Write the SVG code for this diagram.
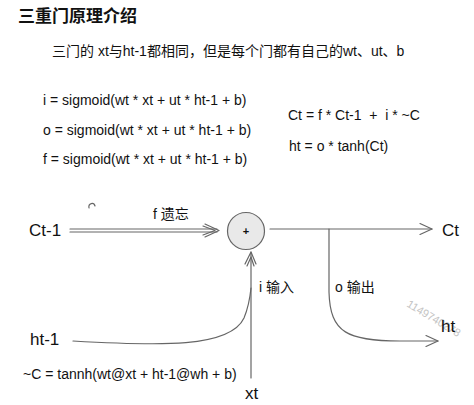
<svg xmlns="http://www.w3.org/2000/svg" width="474" height="405" viewBox="0 0 474 405">
<style>
text{font-family:"Liberation Sans","Noto Sans CJK SC",Arial,sans-serif;fill:#111;white-space:pre}
.t{font-size:17px;font-weight:bold}
.s{font-size:14px}
.b{font-size:17px}
.ln{fill:none;stroke:#666;stroke-width:1.2;stroke-linecap:round;stroke-linejoin:round}
.wm{font-size:11px;fill:#c4c4c4}
</style>
<rect width="474" height="405" fill="#fff"/>
<text class="t" x="18" y="22">三重门原理介绍</text>
<text class="s" x="52" y="56">三门的 xt与ht-1都相同，但是每个门都有自己的wt、ut、b</text>
<g id="formulas">
<text class="s" x="43" y="105">i = sigmoid(wt * xt + ut * ht-1 + b)</text>
<text class="s" x="43" y="135">o = sigmoid(wt * xt + ut * ht-1 + b)</text>
<text class="s" x="43" y="164">f = sigmoid(wt * xt + ut * ht-1 + b)</text>
<text class="s" x="288" y="120">Ct = f * Ct-1  +  i * ~C</text>
<text class="s" x="289" y="151">ht = o * tanh(Ct)</text>
</g>
<g id="connectors">
<path class="ln" d="M70 229 H217 M70 232 H217"/>
<path class="ln" d="M205 224 L219 230.5 L205 237 M203 226 L215 230.5 L203 235"/>
<path class="ln" d="M270 229 H432"/>
<path class="ln" d="M420 223.5 L432 229 L420 234.5"/>
<path class="ln" d="M251 378 V252"/>
<path class="ln" d="M245 264 L251 252 L256 264 M247 266 L251 257 L254 266"/>
<path class="ln" d="M73 341 C160 346 230 348 244 318 C249 306 250 298 251 288"/>
<path class="ln" d="M329 229 V292 C330 333 348 341 400 341 H438"/>
<path class="ln" d="M426 335.5 L438 341 L426 346.5"/>
<path class="ln" d="M89 208 C88 203 94 202 95 206" stroke-width="1.6"/>
</g>
<g id="sum">
<circle cx="246" cy="231" r="18.5" fill="#e9e9e9" stroke="#666" stroke-width="1.2"/>
<text x="246" y="235" text-anchor="middle" style="font-size:11px;font-weight:bold">+</text>
</g>
<g id="labels">
<text class="b" x="29" y="236">Ct-1</text>
<text class="s" x="153" y="219">f 遗忘</text>
<text class="b" x="442" y="236">Ct</text>
<text class="s" x="259" y="292">i 输入</text>
<text class="s" x="335" y="292">o 输出</text>
<text class="b" x="30" y="345">ht-1</text>
<text class="s" x="23" y="379">~C = tannh(wt@xt + ht-1@wh + b)</text>
<text class="b" x="245" y="399">xt</text>
<text class="wm" x="406" y="306" transform="rotate(31 406 306)">1149740278</text>
<text class="b" x="441" y="332">ht</text>
</g>
</svg>
